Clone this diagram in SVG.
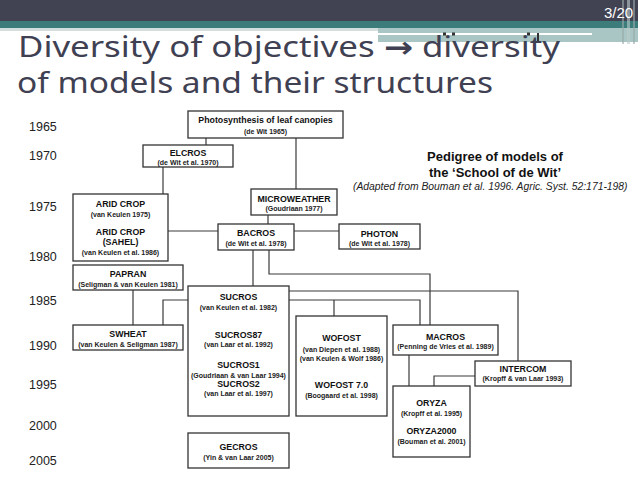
<svg xmlns="http://www.w3.org/2000/svg" width="638" height="478" viewBox="0 0 638 478">
<style>
.box{fill:#fff;stroke:#333;stroke-width:1.3}
.t{font-family:"Liberation Sans",Arial,sans-serif;font-weight:bold;font-size:8.8px;fill:#111;text-anchor:middle}
.s{font-family:"Liberation Sans",Arial,sans-serif;font-weight:bold;font-size:7px;fill:#222;text-anchor:middle}
.yr{font-family:"Liberation Sans",Arial,sans-serif;font-size:12.5px;fill:#222}
.ttl{font-family:"Noto Sans","Open Sans",sans-serif;font-size:28.5px;fill:#3f4153}
.con{fill:none;stroke:#3a3a3a;stroke-width:1.2}
</style>
<rect width="638" height="478" fill="#fff"/>
<g id="header">
<rect x="0" y="0" width="638" height="21" fill="#414252"/>
<rect x="0" y="21" width="638" height="7" fill="#3c7d7b"/>
<rect x="0" y="28" width="378" height="3" fill="#d3dfdf"/>
<rect x="378" y="28" width="260" height="14" fill="#a9c6c4"/>
<line x1="378" y1="34" x2="592" y2="34" stroke="#fff" stroke-width="2"/>
<rect x="443" y="32.5" width="3" height="3" fill="#333"/>
<rect x="452" y="32.5" width="3" height="3" fill="#333"/>
<rect x="527" y="32.5" width="3" height="3" fill="#333"/>
<rect x="537" y="33" width="2" height="8" fill="#333"/>
<rect x="622" y="0" width="2" height="44" fill="#9aa" opacity="0.6"/>
<rect x="627" y="0" width="3" height="44" fill="#bcc" opacity="0.6"/>
<rect x="633" y="0" width="2" height="44" fill="#9aa" opacity="0.6"/>
<text x="604" y="18" font-family="Liberation Sans,Arial,sans-serif" font-size="15" fill="#fff">3/20</text>
</g>
<g id="title">
<text class="ttl" x="18" y="57" textLength="542" lengthAdjust="spacingAndGlyphs">Diversity of objectives <tspan font-family="DejaVu Sans,sans-serif" font-weight="bold">→</tspan> diversity</text>
<text class="ttl" x="17" y="93" textLength="476" lengthAdjust="spacingAndGlyphs">of models and their structures</text>
</g>
<g id="years">
<text class="yr" x="29" y="131">1965</text>
<text class="yr" x="29" y="160">1970</text>
<text class="yr" x="29" y="211">1975</text>
<text class="yr" x="29" y="261">1980</text>
<text class="yr" x="29" y="305">1985</text>
<text class="yr" x="29" y="350">1990</text>
<text class="yr" x="29" y="389">1995</text>
<text class="yr" x="29" y="430">2000</text>
<text class="yr" x="29" y="465">2005</text>
</g>
<g id="caption" font-family="Liberation Sans,Arial,sans-serif">
<text x="495" y="161" font-size="13" font-weight="bold" fill="#111" text-anchor="middle">Pedigree of models of</text>
<text x="495" y="176.5" font-size="13" font-weight="bold" fill="#111" text-anchor="middle">the ‘School of de Wit’</text>
<g transform="translate(353,189.5) scale(0.85,1)">
<text x="0" y="0" font-size="11.5" font-style="italic" fill="#222" textLength="323" lengthAdjust="spacingAndGlyphs">(Adapted from Bouman et al. 1996. Agric. Syst. 52:171-198)</text>
</g>
</g>
<g id="connectors">
<path class="con" d="M206,138V145"/>
<path class="con" d="M296,138V189"/>
<path class="con" d="M163,167V194"/>
<path class="con" d="M268,215V224"/>
<path class="con" d="M168,231H218"/>
<path class="con" d="M294,231H339"/>
<path class="con" d="M253,250V286"/>
<path class="con" d="M269,250V274H430V325"/>
<path class="con" d="M289,291H518V361"/>
<path class="con" d="M289,300H420V325"/>
<path class="con" d="M334,300V316"/>
<path class="con" d="M188,300H163V325"/>
<path class="con" d="M133,290V325"/>
<path class="con" d="M409,355V386"/>
<path class="con" d="M475,376H434V386"/>
</g>
<g id="photosynthesis">
<rect class="box" x="188" y="111" width="155" height="27"/>
<text class="t" x="265.5" y="123">Photosynthesis of leaf canopies</text>
<text class="s" x="265.5" y="133.5">(de Wit 1965)</text>
</g>
<g id="elcros">
<rect class="box" x="143" y="145" width="90" height="22"/>
<text class="t" x="188" y="156">ELCROS</text>
<text class="s" x="188" y="164.5">(de Wit et al. 1970)</text>
</g>
<g id="aridcrop">
<rect class="box" x="73" y="194" width="95" height="67"/>
<text class="t" x="120.5" y="207">ARID CROP</text>
<text class="s" x="120.5" y="216.5">(van Keulen 1975)</text>
<text class="t" x="120.5" y="235">ARID CROP</text>
<text class="t" x="120.5" y="245">(SAHEL)</text>
<text class="s" x="120.5" y="254.5">(van Keulen et al. 1986)</text>
</g>
<g id="microweather">
<rect class="box" x="251" y="189" width="86" height="26"/>
<text class="t" x="294" y="202">MICROWEATHER</text>
<text class="s" x="294" y="210.5">(Goudriaan 1977)</text>
</g>
<g id="bacros">
<rect class="box" x="218" y="224" width="76" height="26"/>
<text class="t" x="256" y="236">BACROS</text>
<text class="s" x="256" y="245.5">(de Wit et al. 1978)</text>
</g>
<g id="photon">
<rect class="box" x="339" y="224" width="81" height="25"/>
<text class="t" x="379.5" y="237">PHOTON</text>
<text class="s" x="379.5" y="245.5">(de Wit et al. 1978)</text>
</g>
<g id="papran">
<rect class="box" x="73" y="265" width="110" height="25"/>
<text class="t" x="128" y="277">PAPRAN</text>
<text class="s" x="128" y="286.5">(Seligman &amp; van Keulen 1981)</text>
</g>
<g id="sucros">
<rect class="box" x="188" y="286" width="101" height="130"/>
<text class="t" x="238.5" y="300">SUCROS</text>
<text class="s" x="238.5" y="309.5">(van Keulen et al. 1982)</text>
<text class="t" x="238.5" y="338">SUCROS87</text>
<text class="s" x="238.5" y="346.5">(van Laar et al. 1992)</text>
<text class="t" x="238.5" y="368">SUCROS1</text>
<text class="s" x="238.5" y="377.5">(Goudriaan &amp; van Laar 1994)</text>
<text class="t" x="238.5" y="387">SUCROS2</text>
<text class="s" x="238.5" y="395.5">(van Laar et al. 1997)</text>
</g>
<g id="swheat">
<rect class="box" x="73" y="325" width="110" height="25"/>
<text class="t" x="128" y="337">SWHEAT</text>
<text class="s" x="128" y="346.5">(van Keulen &amp; Seligman 1987)</text>
</g>
<g id="wofost">
<rect class="box" x="296" y="316" width="91" height="100"/>
<text class="t" x="341.5" y="341">WOFOST</text>
<text class="s" x="341.5" y="351.5">(van Diepen et al. 1988)</text>
<text class="s" x="341.5" y="360.5">(van Keulen &amp; Wolf 1986)</text>
<text class="t" x="341.5" y="388">WOFOST 7.0</text>
<text class="s" x="341.5" y="397.5">(Boogaard et al. 1998)</text>
</g>
<g id="macros">
<rect class="box" x="393" y="325" width="105" height="30"/>
<text class="t" x="445.5" y="340">MACROS</text>
<text class="s" x="445.5" y="348.5">(Penning de Vries et al. 1989)</text>
</g>
<g id="intercom">
<rect class="box" x="475" y="361" width="96" height="25"/>
<text class="t" x="523" y="372">INTERCOM</text>
<text class="s" x="523" y="380.5">(Kropff &amp; van Laar 1993)</text>
</g>
<g id="oryza">
<rect class="box" x="393" y="386" width="77" height="71"/>
<text class="t" x="431.5" y="406">ORYZA</text>
<text class="s" x="431.5" y="415.5">(Kropff et al. 1995)</text>
<text class="t" x="431.5" y="434">ORYZA2000</text>
<text class="s" x="431.5" y="443.5">(Bouman et al. 2001)</text>
</g>
<g id="gecros">
<rect class="box" x="188" y="433" width="101" height="35"/>
<text class="t" x="238.5" y="450">GECROS</text>
<text class="s" x="238.5" y="459.5">(Yin &amp; van Laar 2005)</text>
</g>
</svg>
